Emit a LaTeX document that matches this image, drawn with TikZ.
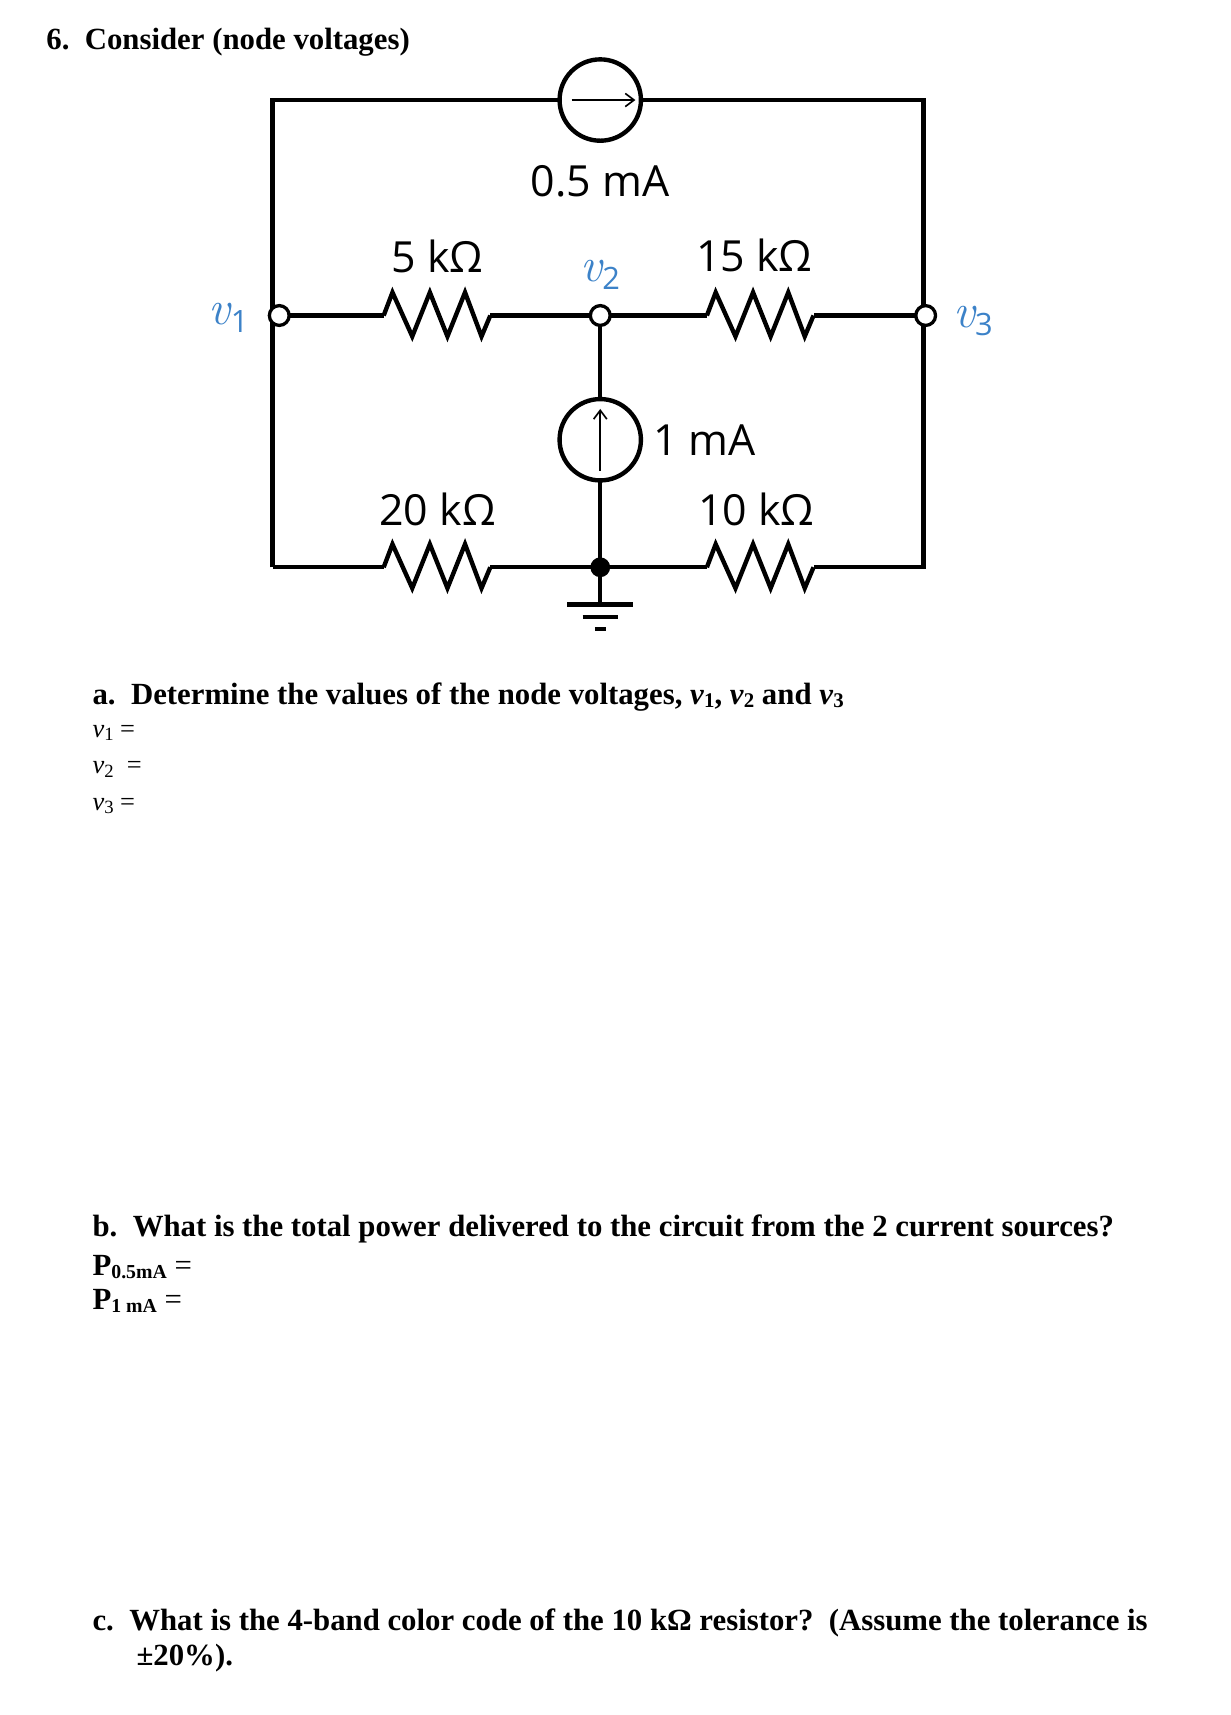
\documentclass[tikz,border=0pt]{standalone}
\usepackage{fontspec}
\setmainfont{Liberation Serif}
\newfontfamily\circfont{Open Sans}
\newfontfamily\lmfont{Latin Modern Roman}
\usetikzlibrary{arrows.meta}
\definecolor{vblue}{RGB}{60,130,200}
\tikzset{
 wire/.style={line width=4pt},
 lbl/.style={font=\circfont\fontsize{39}{42}\selectfont,inner sep=0},
 vlbl/.style={text=vblue,inner sep=0},
 txt/.style={anchor=base west,inner sep=0,font=\fontsize{28}{32}\selectfont},
 opennode/.style={circle,draw,line width=3pt,fill=white,minimum size=18pt,inner sep=0},
 src/.style={circle,draw,line width=4pt,fill=white,minimum size=74pt,inner sep=0},
}
\newcommand{\vlab}[1]{{\lmfont\itshape\fontsize{44}{44}\selectfont v}\raisebox{-7pt}{\circfont\fontsize{28}{30}\selectfont #1}}
\newcommand{\resis}[2]{%
 \draw[wire,line join=miter] (#1,#2) -- ++(8,-21) -- ++(18,40) -- ++(16,-40) -- ++(16,40) -- ++(16,-40) -- ++(15,40) -- ++(8,-19);}
\begin{document}
\begin{tikzpicture}[x=1pt,y=-1pt]
\useasboundingbox (0,0) rectangle (1119,1560);
% wires
\coordinate (tl) at (248,91); \coordinate (tr) at (840,91);
\coordinate (bl) at (248,516); \coordinate (br) at (840,516);
\draw[wire] (bl) -- (tl) -- (tr) -- (br) -- (bl);
\draw[wire] (254,287) -- (842,287);
\draw[wire] (546,287) -- (546,550);
\draw[wire,white,line width=6pt] (349,287) -- (446,287) (643,287) -- (740,287) (349,516) -- (446,516) (643,516) -- (740,516);
\resis{349}{287}\resis{643}{287}\resis{349}{516}\resis{643}{516}
% sources
\node[src] (s1) at (546,91) {};
\draw[line width=1.5pt,-{Straight Barb[length=8pt,width=12pt]}] (520,91) -- (578,91);
\node[src] (s2) at (546,400) {};
\draw[line width=1.5pt,-{Straight Barb[length=8pt,width=12pt]}] (546,428) -- (546,372);
% nodes
\node[opennode] (v1) at (254,287) {};
\node[opennode] (v2) at (546,287) {};
\node[opennode] (v3) at (842,287) {};
\node[circle,fill,minimum size=18pt,inner sep=0] (g) at (546,516) {};
% ground
\draw[wire] (516,550) -- (576,550);
\draw[wire] (530,561) -- (562,561);
\draw[wire] (541,572) -- (551,572);
% labels
\node[lbl] at (546,165) {0.5 mA};
\node[lbl] at (398,233) {5 kΩ};
\node[lbl] at (686,232) {15 kΩ};
\node[lbl] at (398,463) {20 kΩ};
\node[lbl] at (688,463) {10 kΩ};
\node[lbl,anchor=west] at (594,400) {1 mA};
\node[vlbl] at (546,250) {\vlab{2}};
\node[vlbl] at (208,289) {\vlab{1}};
\node[vlbl] at (885,292) {\vlab{3}};
% text
\node[txt,font=\fontsize{28}{32}\selectfont\bfseries] at (42,45) {6.\ \ Consider (node voltages)};
\node[txt,font=\fontsize{28}{32}\selectfont\bfseries] at (84,641) {a.\ \ Determine the values of the node voltages, \textit{v}\raisebox{-3pt}{\fontsize{19}{20}\selectfont 1}, \textit{v}\raisebox{-3pt}{\fontsize{19}{20}\selectfont 2} and \textit{v}\raisebox{-3pt}{\fontsize{19}{20}\selectfont 3}};
\node[txt,font=\fontsize{24}{26}\selectfont] at (84,671) {\textit{v}\raisebox{-3pt}{\fontsize{17}{18}\selectfont 1} =};
\node[txt,font=\fontsize{24}{26}\selectfont] at (84,704) {\textit{v}\raisebox{-3pt}{\fontsize{17}{18}\selectfont 2}\ \ =};
\node[txt,font=\fontsize{24}{26}\selectfont] at (84,737) {\textit{v}\raisebox{-3pt}{\fontsize{17}{18}\selectfont 3} =};
\node[txt,font=\fontsize{28}{32}\selectfont\bfseries] at (84,1125) {b.\ \ What is the total power delivered to the circuit from the 2 current sources?};
\node[txt,font=\fontsize{28}{32}\selectfont] at (84,1160) {\textbf{P}\raisebox{-3pt}{\fontsize{18}{18}\selectfont\bfseries 0.5mA} =};
\node[txt,font=\fontsize{28}{32}\selectfont] at (84,1191) {\textbf{P}\raisebox{-3pt}{\fontsize{18}{18}\selectfont\bfseries 1 mA} =};
\node[txt,font=\fontsize{28}{32}\selectfont\bfseries] at (84,1483) {c.\ \ What is the 4-band color code of the 10 kΩ resistor?\ \ (Assume the tolerance is};
\node[txt,font=\fontsize{28}{32}\selectfont\bfseries] at (124,1515) {±20\%).};
\end{tikzpicture}
\end{document}
